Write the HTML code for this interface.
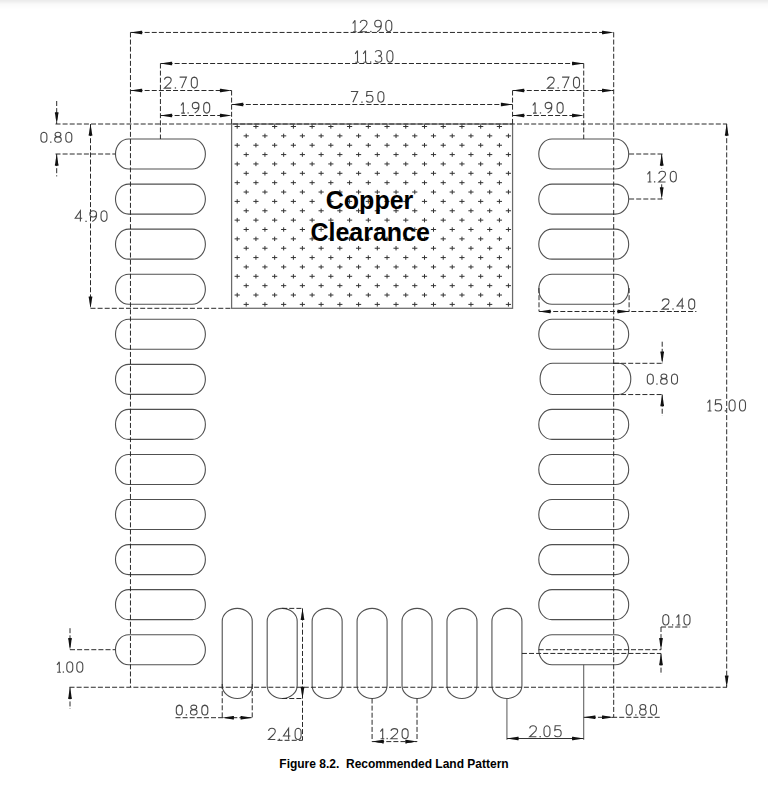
<!DOCTYPE html>
<html><head><meta charset="utf-8">
<style>
html,body{margin:0;padding:0;background:#fff;}
body{width:768px;height:807px;position:relative;overflow:hidden;}
svg{position:absolute;left:0;top:0;}
.big{position:absolute;font-family:"Liberation Sans",sans-serif;font-weight:bold;color:#000;white-space:nowrap;}
</style></head><body>
<svg width="768" height="807" viewBox="0 0 768 807">
<rect x="0" y="0" width="768" height="1" fill="#ececec"/><rect x="0" y="1" width="768" height="1" fill="#efefef"/><rect x="0" y="2" width="768" height="1" fill="#f3f3f3"/><rect x="0" y="3" width="768" height="1" fill="#f7f7f7"/><rect x="0" y="4" width="768" height="1" fill="#fafafa"/><rect x="0" y="5" width="768" height="1" fill="#fbfbfb"/><rect x="0" y="6" width="768" height="1" fill="#fcfcfc"/><rect x="0" y="7" width="768" height="1" fill="#fdfdfd"/><rect x="0" y="8" width="768" height="1" fill="#fefefe"/>
<path d="M234.6,126.5h5.2M237.2,124.3v4.4M253.33,126.5h5.2M255.93,124.3v4.4M272.06,126.5h5.2M274.66,124.3v4.4M290.79,126.5h5.2M293.39,124.3v4.4M309.52,126.5h5.2M312.12,124.3v4.4M328.25,126.5h5.2M330.85,124.3v4.4M346.98,126.5h5.2M349.58,124.3v4.4M365.71,126.5h5.2M368.31,124.3v4.4M384.44,126.5h5.2M387.04,124.3v4.4M403.17,126.5h5.2M405.77,124.3v4.4M421.9,126.5h5.2M424.5,124.3v4.4M440.63,126.5h5.2M443.23,124.3v4.4M459.36,126.5h5.2M461.96,124.3v4.4M478.09,126.5h5.2M480.69,124.3v4.4M496.82,126.5h5.2M499.42,124.3v4.4M243.6,135.86h5.2M246.2,133.66v4.4M262.33,135.86h5.2M264.93,133.66v4.4M281.06,135.86h5.2M283.66,133.66v4.4M299.79,135.86h5.2M302.39,133.66v4.4M318.52,135.86h5.2M321.12,133.66v4.4M337.25,135.86h5.2M339.85,133.66v4.4M355.98,135.86h5.2M358.58,133.66v4.4M374.71,135.86h5.2M377.31,133.66v4.4M393.44,135.86h5.2M396.04,133.66v4.4M412.17,135.86h5.2M414.77,133.66v4.4M430.9,135.86h5.2M433.5,133.66v4.4M449.63,135.86h5.2M452.23,133.66v4.4M468.36,135.86h5.2M470.96,133.66v4.4M487.09,135.86h5.2M489.69,133.66v4.4M505.82,135.86h5.2M508.42,133.66v4.4M234.6,145.23h5.2M237.2,143.03v4.4M253.33,145.23h5.2M255.93,143.03v4.4M272.06,145.23h5.2M274.66,143.03v4.4M290.79,145.23h5.2M293.39,143.03v4.4M309.52,145.23h5.2M312.12,143.03v4.4M328.25,145.23h5.2M330.85,143.03v4.4M346.98,145.23h5.2M349.58,143.03v4.4M365.71,145.23h5.2M368.31,143.03v4.4M384.44,145.23h5.2M387.04,143.03v4.4M403.17,145.23h5.2M405.77,143.03v4.4M421.9,145.23h5.2M424.5,143.03v4.4M440.63,145.23h5.2M443.23,143.03v4.4M459.36,145.23h5.2M461.96,143.03v4.4M478.09,145.23h5.2M480.69,143.03v4.4M496.82,145.23h5.2M499.42,143.03v4.4M243.6,154.59h5.2M246.2,152.39v4.4M262.33,154.59h5.2M264.93,152.39v4.4M281.06,154.59h5.2M283.66,152.39v4.4M299.79,154.59h5.2M302.39,152.39v4.4M318.52,154.59h5.2M321.12,152.39v4.4M337.25,154.59h5.2M339.85,152.39v4.4M355.98,154.59h5.2M358.58,152.39v4.4M374.71,154.59h5.2M377.31,152.39v4.4M393.44,154.59h5.2M396.04,152.39v4.4M412.17,154.59h5.2M414.77,152.39v4.4M430.9,154.59h5.2M433.5,152.39v4.4M449.63,154.59h5.2M452.23,152.39v4.4M468.36,154.59h5.2M470.96,152.39v4.4M487.09,154.59h5.2M489.69,152.39v4.4M505.82,154.59h5.2M508.42,152.39v4.4M234.6,163.95h5.2M237.2,161.75v4.4M253.33,163.95h5.2M255.93,161.75v4.4M272.06,163.95h5.2M274.66,161.75v4.4M290.79,163.95h5.2M293.39,161.75v4.4M309.52,163.95h5.2M312.12,161.75v4.4M328.25,163.95h5.2M330.85,161.75v4.4M346.98,163.95h5.2M349.58,161.75v4.4M365.71,163.95h5.2M368.31,161.75v4.4M384.44,163.95h5.2M387.04,161.75v4.4M403.17,163.95h5.2M405.77,161.75v4.4M421.9,163.95h5.2M424.5,161.75v4.4M440.63,163.95h5.2M443.23,161.75v4.4M459.36,163.95h5.2M461.96,161.75v4.4M478.09,163.95h5.2M480.69,161.75v4.4M496.82,163.95h5.2M499.42,161.75v4.4M243.6,173.31h5.2M246.2,171.12v4.4M262.33,173.31h5.2M264.93,171.12v4.4M281.06,173.31h5.2M283.66,171.12v4.4M299.79,173.31h5.2M302.39,171.12v4.4M318.52,173.31h5.2M321.12,171.12v4.4M337.25,173.31h5.2M339.85,171.12v4.4M355.98,173.31h5.2M358.58,171.12v4.4M374.71,173.31h5.2M377.31,171.12v4.4M393.44,173.31h5.2M396.04,171.12v4.4M412.17,173.31h5.2M414.77,171.12v4.4M430.9,173.31h5.2M433.5,171.12v4.4M449.63,173.31h5.2M452.23,171.12v4.4M468.36,173.31h5.2M470.96,171.12v4.4M487.09,173.31h5.2M489.69,171.12v4.4M505.82,173.31h5.2M508.42,171.12v4.4M234.6,182.68h5.2M237.2,180.48v4.4M253.33,182.68h5.2M255.93,180.48v4.4M272.06,182.68h5.2M274.66,180.48v4.4M290.79,182.68h5.2M293.39,180.48v4.4M309.52,182.68h5.2M312.12,180.48v4.4M328.25,182.68h5.2M330.85,180.48v4.4M346.98,182.68h5.2M349.58,180.48v4.4M365.71,182.68h5.2M368.31,180.48v4.4M384.44,182.68h5.2M387.04,180.48v4.4M403.17,182.68h5.2M405.77,180.48v4.4M421.9,182.68h5.2M424.5,180.48v4.4M440.63,182.68h5.2M443.23,180.48v4.4M459.36,182.68h5.2M461.96,180.48v4.4M478.09,182.68h5.2M480.69,180.48v4.4M496.82,182.68h5.2M499.42,180.48v4.4M243.6,192.04h5.2M246.2,189.84v4.4M262.33,192.04h5.2M264.93,189.84v4.4M281.06,192.04h5.2M283.66,189.84v4.4M299.79,192.04h5.2M302.39,189.84v4.4M318.52,192.04h5.2M321.12,189.84v4.4M337.25,192.04h5.2M339.85,189.84v4.4M355.98,192.04h5.2M358.58,189.84v4.4M374.71,192.04h5.2M377.31,189.84v4.4M393.44,192.04h5.2M396.04,189.84v4.4M412.17,192.04h5.2M414.77,189.84v4.4M430.9,192.04h5.2M433.5,189.84v4.4M449.63,192.04h5.2M452.23,189.84v4.4M468.36,192.04h5.2M470.96,189.84v4.4M487.09,192.04h5.2M489.69,189.84v4.4M505.82,192.04h5.2M508.42,189.84v4.4M234.6,201.4h5.2M237.2,199.2v4.4M253.33,201.4h5.2M255.93,199.2v4.4M272.06,201.4h5.2M274.66,199.2v4.4M290.79,201.4h5.2M293.39,199.2v4.4M309.52,201.4h5.2M312.12,199.2v4.4M328.25,201.4h5.2M330.85,199.2v4.4M346.98,201.4h5.2M349.58,199.2v4.4M365.71,201.4h5.2M368.31,199.2v4.4M384.44,201.4h5.2M387.04,199.2v4.4M403.17,201.4h5.2M405.77,199.2v4.4M421.9,201.4h5.2M424.5,199.2v4.4M440.63,201.4h5.2M443.23,199.2v4.4M459.36,201.4h5.2M461.96,199.2v4.4M478.09,201.4h5.2M480.69,199.2v4.4M496.82,201.4h5.2M499.42,199.2v4.4M243.6,210.77h5.2M246.2,208.57v4.4M262.33,210.77h5.2M264.93,208.57v4.4M281.06,210.77h5.2M283.66,208.57v4.4M299.79,210.77h5.2M302.39,208.57v4.4M318.52,210.77h5.2M321.12,208.57v4.4M337.25,210.77h5.2M339.85,208.57v4.4M355.98,210.77h5.2M358.58,208.57v4.4M374.71,210.77h5.2M377.31,208.57v4.4M393.44,210.77h5.2M396.04,208.57v4.4M412.17,210.77h5.2M414.77,208.57v4.4M430.9,210.77h5.2M433.5,208.57v4.4M449.63,210.77h5.2M452.23,208.57v4.4M468.36,210.77h5.2M470.96,208.57v4.4M487.09,210.77h5.2M489.69,208.57v4.4M505.82,210.77h5.2M508.42,208.57v4.4M234.6,220.13h5.2M237.2,217.93v4.4M253.33,220.13h5.2M255.93,217.93v4.4M272.06,220.13h5.2M274.66,217.93v4.4M290.79,220.13h5.2M293.39,217.93v4.4M309.52,220.13h5.2M312.12,217.93v4.4M328.25,220.13h5.2M330.85,217.93v4.4M346.98,220.13h5.2M349.58,217.93v4.4M365.71,220.13h5.2M368.31,217.93v4.4M384.44,220.13h5.2M387.04,217.93v4.4M403.17,220.13h5.2M405.77,217.93v4.4M421.9,220.13h5.2M424.5,217.93v4.4M440.63,220.13h5.2M443.23,217.93v4.4M459.36,220.13h5.2M461.96,217.93v4.4M478.09,220.13h5.2M480.69,217.93v4.4M496.82,220.13h5.2M499.42,217.93v4.4M243.6,229.49h5.2M246.2,227.29v4.4M262.33,229.49h5.2M264.93,227.29v4.4M281.06,229.49h5.2M283.66,227.29v4.4M299.79,229.49h5.2M302.39,227.29v4.4M318.52,229.49h5.2M321.12,227.29v4.4M337.25,229.49h5.2M339.85,227.29v4.4M355.98,229.49h5.2M358.58,227.29v4.4M374.71,229.49h5.2M377.31,227.29v4.4M393.44,229.49h5.2M396.04,227.29v4.4M412.17,229.49h5.2M414.77,227.29v4.4M430.9,229.49h5.2M433.5,227.29v4.4M449.63,229.49h5.2M452.23,227.29v4.4M468.36,229.49h5.2M470.96,227.29v4.4M487.09,229.49h5.2M489.69,227.29v4.4M505.82,229.49h5.2M508.42,227.29v4.4M234.6,238.86h5.2M237.2,236.66v4.4M253.33,238.86h5.2M255.93,236.66v4.4M272.06,238.86h5.2M274.66,236.66v4.4M290.79,238.86h5.2M293.39,236.66v4.4M309.52,238.86h5.2M312.12,236.66v4.4M328.25,238.86h5.2M330.85,236.66v4.4M346.98,238.86h5.2M349.58,236.66v4.4M365.71,238.86h5.2M368.31,236.66v4.4M384.44,238.86h5.2M387.04,236.66v4.4M403.17,238.86h5.2M405.77,236.66v4.4M421.9,238.86h5.2M424.5,236.66v4.4M440.63,238.86h5.2M443.23,236.66v4.4M459.36,238.86h5.2M461.96,236.66v4.4M478.09,238.86h5.2M480.69,236.66v4.4M496.82,238.86h5.2M499.42,236.66v4.4M243.6,248.22h5.2M246.2,246.02v4.4M262.33,248.22h5.2M264.93,246.02v4.4M281.06,248.22h5.2M283.66,246.02v4.4M299.79,248.22h5.2M302.39,246.02v4.4M318.52,248.22h5.2M321.12,246.02v4.4M337.25,248.22h5.2M339.85,246.02v4.4M355.98,248.22h5.2M358.58,246.02v4.4M374.71,248.22h5.2M377.31,246.02v4.4M393.44,248.22h5.2M396.04,246.02v4.4M412.17,248.22h5.2M414.77,246.02v4.4M430.9,248.22h5.2M433.5,246.02v4.4M449.63,248.22h5.2M452.23,246.02v4.4M468.36,248.22h5.2M470.96,246.02v4.4M487.09,248.22h5.2M489.69,246.02v4.4M505.82,248.22h5.2M508.42,246.02v4.4M234.6,257.58h5.2M237.2,255.38v4.4M253.33,257.58h5.2M255.93,255.38v4.4M272.06,257.58h5.2M274.66,255.38v4.4M290.79,257.58h5.2M293.39,255.38v4.4M309.52,257.58h5.2M312.12,255.38v4.4M328.25,257.58h5.2M330.85,255.38v4.4M346.98,257.58h5.2M349.58,255.38v4.4M365.71,257.58h5.2M368.31,255.38v4.4M384.44,257.58h5.2M387.04,255.38v4.4M403.17,257.58h5.2M405.77,255.38v4.4M421.9,257.58h5.2M424.5,255.38v4.4M440.63,257.58h5.2M443.23,255.38v4.4M459.36,257.58h5.2M461.96,255.38v4.4M478.09,257.58h5.2M480.69,255.38v4.4M496.82,257.58h5.2M499.42,255.38v4.4M243.6,266.94h5.2M246.2,264.75v4.4M262.33,266.94h5.2M264.93,264.75v4.4M281.06,266.94h5.2M283.66,264.75v4.4M299.79,266.94h5.2M302.39,264.75v4.4M318.52,266.94h5.2M321.12,264.75v4.4M337.25,266.94h5.2M339.85,264.75v4.4M355.98,266.94h5.2M358.58,264.75v4.4M374.71,266.94h5.2M377.31,264.75v4.4M393.44,266.94h5.2M396.04,264.75v4.4M412.17,266.94h5.2M414.77,264.75v4.4M430.9,266.94h5.2M433.5,264.75v4.4M449.63,266.94h5.2M452.23,264.75v4.4M468.36,266.94h5.2M470.96,264.75v4.4M487.09,266.94h5.2M489.69,264.75v4.4M505.82,266.94h5.2M508.42,264.75v4.4M234.6,276.31h5.2M237.2,274.11v4.4M253.33,276.31h5.2M255.93,274.11v4.4M272.06,276.31h5.2M274.66,274.11v4.4M290.79,276.31h5.2M293.39,274.11v4.4M309.52,276.31h5.2M312.12,274.11v4.4M328.25,276.31h5.2M330.85,274.11v4.4M346.98,276.31h5.2M349.58,274.11v4.4M365.71,276.31h5.2M368.31,274.11v4.4M384.44,276.31h5.2M387.04,274.11v4.4M403.17,276.31h5.2M405.77,274.11v4.4M421.9,276.31h5.2M424.5,274.11v4.4M440.63,276.31h5.2M443.23,274.11v4.4M459.36,276.31h5.2M461.96,274.11v4.4M478.09,276.31h5.2M480.69,274.11v4.4M496.82,276.31h5.2M499.42,274.11v4.4M243.6,285.67h5.2M246.2,283.47v4.4M262.33,285.67h5.2M264.93,283.47v4.4M281.06,285.67h5.2M283.66,283.47v4.4M299.79,285.67h5.2M302.39,283.47v4.4M318.52,285.67h5.2M321.12,283.47v4.4M337.25,285.67h5.2M339.85,283.47v4.4M355.98,285.67h5.2M358.58,283.47v4.4M374.71,285.67h5.2M377.31,283.47v4.4M393.44,285.67h5.2M396.04,283.47v4.4M412.17,285.67h5.2M414.77,283.47v4.4M430.9,285.67h5.2M433.5,283.47v4.4M449.63,285.67h5.2M452.23,283.47v4.4M468.36,285.67h5.2M470.96,283.47v4.4M487.09,285.67h5.2M489.69,283.47v4.4M505.82,285.67h5.2M508.42,283.47v4.4M234.6,295.03h5.2M237.2,292.83v4.4M253.33,295.03h5.2M255.93,292.83v4.4M272.06,295.03h5.2M274.66,292.83v4.4M290.79,295.03h5.2M293.39,292.83v4.4M309.52,295.03h5.2M312.12,292.83v4.4M328.25,295.03h5.2M330.85,292.83v4.4M346.98,295.03h5.2M349.58,292.83v4.4M365.71,295.03h5.2M368.31,292.83v4.4M384.44,295.03h5.2M387.04,292.83v4.4M403.17,295.03h5.2M405.77,292.83v4.4M421.9,295.03h5.2M424.5,292.83v4.4M440.63,295.03h5.2M443.23,292.83v4.4M459.36,295.03h5.2M461.96,292.83v4.4M478.09,295.03h5.2M480.69,292.83v4.4M496.82,295.03h5.2M499.42,292.83v4.4M243.6,304.4h5.2M246.2,302.2v4.4M262.33,304.4h5.2M264.93,302.2v4.4M281.06,304.4h5.2M283.66,302.2v4.4M299.79,304.4h5.2M302.39,302.2v4.4M318.52,304.4h5.2M321.12,302.2v4.4M337.25,304.4h5.2M339.85,302.2v4.4M355.98,304.4h5.2M358.58,302.2v4.4M374.71,304.4h5.2M377.31,302.2v4.4M393.44,304.4h5.2M396.04,302.2v4.4M412.17,304.4h5.2M414.77,302.2v4.4M430.9,304.4h5.2M433.5,302.2v4.4M449.63,304.4h5.2M452.23,302.2v4.4M468.36,304.4h5.2M470.96,302.2v4.4M487.09,304.4h5.2M489.69,302.2v4.4M505.82,304.4h5.2M508.42,302.2v4.4" stroke="#333" stroke-width="1" fill="none"/>
<rect x="231.6" y="124" width="280.96" height="184.3" fill="none" stroke="#6a6a6a" stroke-width="1.25"/>
<rect x="115.48" y="139.04" width="89.9" height="30" rx="13.2" ry="15" fill="none" stroke="#505050" stroke-width="1.1"/>
<rect x="538.78" y="139.04" width="89.9" height="30" rx="13.2" ry="15" fill="none" stroke="#505050" stroke-width="1.1"/>
<rect x="115.48" y="184.1" width="89.9" height="30" rx="13.2" ry="15" fill="none" stroke="#505050" stroke-width="1.1"/>
<rect x="538.78" y="184.1" width="89.9" height="30" rx="13.2" ry="15" fill="none" stroke="#505050" stroke-width="1.1"/>
<rect x="115.48" y="229.16" width="89.9" height="30" rx="13.2" ry="15" fill="none" stroke="#505050" stroke-width="1.1"/>
<rect x="538.78" y="229.16" width="89.9" height="30" rx="13.2" ry="15" fill="none" stroke="#505050" stroke-width="1.1"/>
<rect x="115.48" y="274.22" width="89.9" height="30" rx="13.2" ry="15" fill="none" stroke="#505050" stroke-width="1.1"/>
<rect x="538.78" y="274.22" width="89.9" height="30" rx="13.2" ry="15" fill="none" stroke="#505050" stroke-width="1.1"/>
<rect x="115.48" y="319.28" width="89.9" height="30" rx="13.2" ry="15" fill="none" stroke="#505050" stroke-width="1.1"/>
<rect x="538.78" y="319.28" width="89.9" height="30" rx="13.2" ry="15" fill="none" stroke="#505050" stroke-width="1.1"/>
<rect x="115.48" y="364.34" width="89.9" height="30" rx="13.2" ry="15" fill="none" stroke="#505050" stroke-width="1.1"/>
<rect x="540.1" y="363.3" width="90.7" height="31.25" rx="12.5" ry="15.6" fill="none" stroke="#505050" stroke-width="1.1"/>
<rect x="115.48" y="409.4" width="89.9" height="30" rx="13.2" ry="15" fill="none" stroke="#505050" stroke-width="1.1"/>
<rect x="538.78" y="409.4" width="89.9" height="30" rx="13.2" ry="15" fill="none" stroke="#505050" stroke-width="1.1"/>
<rect x="115.48" y="454.46" width="89.9" height="30" rx="13.2" ry="15" fill="none" stroke="#505050" stroke-width="1.1"/>
<rect x="538.78" y="454.46" width="89.9" height="30" rx="13.2" ry="15" fill="none" stroke="#505050" stroke-width="1.1"/>
<rect x="115.48" y="499.52" width="89.9" height="30" rx="13.2" ry="15" fill="none" stroke="#505050" stroke-width="1.1"/>
<rect x="538.78" y="499.52" width="89.9" height="30" rx="13.2" ry="15" fill="none" stroke="#505050" stroke-width="1.1"/>
<rect x="115.48" y="544.58" width="89.9" height="30" rx="13.2" ry="15" fill="none" stroke="#505050" stroke-width="1.1"/>
<rect x="538.78" y="544.58" width="89.9" height="30" rx="13.2" ry="15" fill="none" stroke="#505050" stroke-width="1.1"/>
<rect x="115.48" y="589.64" width="89.9" height="30" rx="13.2" ry="15" fill="none" stroke="#505050" stroke-width="1.1"/>
<rect x="538.78" y="589.64" width="89.9" height="30" rx="13.2" ry="15" fill="none" stroke="#505050" stroke-width="1.1"/>
<rect x="115.48" y="634.7" width="89.9" height="30" rx="13.2" ry="15" fill="none" stroke="#505050" stroke-width="1.1"/>
<rect x="538.78" y="634.7" width="89.9" height="30" rx="13.2" ry="15" fill="none" stroke="#505050" stroke-width="1.1"/>
<rect x="222.23" y="608.39" width="30" height="90.12" rx="15" ry="13" fill="none" stroke="#505050" stroke-width="1.1"/>
<rect x="267.18" y="608.39" width="30" height="90.12" rx="15" ry="13" fill="none" stroke="#505050" stroke-width="1.1"/>
<rect x="312.13" y="608.39" width="30" height="90.12" rx="15" ry="13" fill="none" stroke="#505050" stroke-width="1.1"/>
<rect x="357.08" y="608.39" width="30" height="90.12" rx="15" ry="13" fill="none" stroke="#505050" stroke-width="1.1"/>
<rect x="402.03" y="608.39" width="30" height="90.12" rx="15" ry="13" fill="none" stroke="#505050" stroke-width="1.1"/>
<rect x="446.98" y="608.39" width="30" height="90.12" rx="15" ry="13" fill="none" stroke="#505050" stroke-width="1.1"/>
<rect x="491.93" y="608.39" width="30" height="90.12" rx="15" ry="13" fill="none" stroke="#505050" stroke-width="1.1"/>
<line x1="130.46" y1="32.45" x2="130.46" y2="687.25" stroke="#2a2a2a" stroke-width="1" stroke-dasharray="5 2.1"/>
<line x1="613.7" y1="32.45" x2="613.7" y2="717.3" stroke="#2a2a2a" stroke-width="1" stroke-dasharray="5 2.1"/>
<line x1="55.5" y1="124" x2="727" y2="124" stroke="#2a2a2a" stroke-width="1" stroke-dasharray="5 2.1"/>
<line x1="69.5" y1="687.25" x2="727" y2="687.25" stroke="#2a2a2a" stroke-width="1" stroke-dasharray="5 2.1"/>
<line x1="130.46" y1="32.45" x2="613.7" y2="32.45" stroke="#2a2a2a" stroke-width="1" stroke-dasharray="5 2.1"/>
<polygon points="130.46,32.45 133.46,31.95 136.46,31.4 139.96,30.95 140.96,30.65 142.16,30.65 142.16,34.25 140.96,34.25 139.96,33.95 136.46,33.5 133.46,32.95" fill="#111"/>
<polygon points="613.7,32.45 610.7,31.95 607.7,31.4 604.2,30.95 603.2,30.65 602,30.65 602,34.25 603.2,34.25 604.2,33.95 607.7,33.5 610.7,32.95" fill="#111"/>
<path transform="translate(352.7,20.2) scale(1,1.0455)" d="M2.3,0 L0,3.2 M2.3,0 V11 M0.2,11 H3.9" fill="none" stroke="#484848" stroke-width="1.1" vector-effect="non-scaling-stroke"/>
<path transform="translate(360.2,20.2) scale(1,1.0455)" d="M0,2.6 Q0.6,0 3.4,0 Q6.8,0 6.8,3 Q6.8,5 4.6,6.6 L0,11 H6.8" fill="none" stroke="#484848" stroke-width="1.1" vector-effect="non-scaling-stroke"/>
<rect x="370.2" y="30.9" width="1.3" height="1.3" fill="#484848"/>
<path transform="translate(374.7,20.2) scale(1,1.0455)" d="M6.6,3.3 Q6.6,6.4 3.3,6.4 Q0,6.4 0,3.2 Q0,0 3.3,0 Q6.6,0 6.6,3.3 V5 Q6.4,8.8 2.4,11" fill="none" stroke="#484848" stroke-width="1.1" vector-effect="non-scaling-stroke"/>
<path transform="translate(385.8,20.2) scale(1,1.0455)" d="M3,0 Q6,0.4 6,4 V7 Q6,10.6 3,11 Q0,10.6 0,7 V4 Q0,0.4 3,0 Z" fill="none" stroke="#484848" stroke-width="1.1" vector-effect="non-scaling-stroke"/>
<line x1="160.43" y1="63.5" x2="583.73" y2="63.5" stroke="#2a2a2a" stroke-width="1" stroke-dasharray="5 2.1"/>
<line x1="160.43" y1="63.5" x2="160.43" y2="139.04" stroke="#2a2a2a" stroke-width="1" stroke-dasharray="5 2.1"/>
<line x1="583.73" y1="63.5" x2="583.73" y2="139.04" stroke="#2a2a2a" stroke-width="1" stroke-dasharray="5 2.1"/>
<polygon points="160.43,63.5 163.43,63 166.43,62.45 169.93,62 170.93,61.7 172.13,61.7 172.13,65.3 170.93,65.3 169.93,65 166.43,64.55 163.43,64" fill="#111"/>
<polygon points="583.73,63.5 580.73,63 577.73,62.45 574.23,62 573.23,61.7 572.03,61.7 572.03,65.3 573.23,65.3 574.23,65 577.73,64.55 580.73,64" fill="#111"/>
<path transform="translate(355.2,50.5) scale(1,1.0636)" d="M2.3,0 L0,3.2 M2.3,0 V11 M0.2,11 H3.9" fill="none" stroke="#484848" stroke-width="1.1" vector-effect="non-scaling-stroke"/>
<path transform="translate(363.25,50.5) scale(1,1.0636)" d="M2.3,0 L0,3.2 M2.3,0 V11 M0.2,11 H3.9" fill="none" stroke="#484848" stroke-width="1.1" vector-effect="non-scaling-stroke"/>
<rect x="370" y="61.4" width="1.3" height="1.3" fill="#484848"/>
<path transform="translate(375.05,50.5) scale(1,1.0636)" d="M0.2,1.6 Q1,0 3.3,0 Q6.4,0 6.4,2.7 Q6.4,5.2 3,5.2 Q6.8,5.2 6.8,8 Q6.8,11 3.4,11 Q0.8,11 0,9.4" fill="none" stroke="#484848" stroke-width="1.1" vector-effect="non-scaling-stroke"/>
<path transform="translate(386.9,50.5) scale(1,1.0636)" d="M3,0 Q6,0.4 6,4 V7 Q6,10.6 3,11 Q0,10.6 0,7 V4 Q0,0.4 3,0 Z" fill="none" stroke="#484848" stroke-width="1.1" vector-effect="non-scaling-stroke"/>
<line x1="130.46" y1="90.5" x2="231.6" y2="90.5" stroke="#2a2a2a" stroke-width="1" stroke-dasharray="5 2.1"/>
<polygon points="130.46,90.5 133.46,90 136.46,89.45 139.96,89 140.96,88.7 142.16,88.7 142.16,92.3 140.96,92.3 139.96,92 136.46,91.55 133.46,91" fill="#111"/>
<polygon points="231.6,90.5 228.6,90 225.6,89.45 222.1,89 221.1,88.7 219.9,88.7 219.9,92.3 221.1,92.3 222.1,92 225.6,91.55 228.6,91" fill="#111"/>
<path transform="translate(164.4,77.1) scale(1,1.0000)" d="M0,2.6 Q0.6,0 3.4,0 Q6.8,0 6.8,3 Q6.8,5 4.6,6.6 L0,11 H6.8" fill="none" stroke="#484848" stroke-width="1.1" vector-effect="non-scaling-stroke"/>
<rect x="174.77" y="87.3" width="1.3" height="1.3" fill="#484848"/>
<path transform="translate(179.63,77.1) scale(1,1.0000)" d="M0,0 H6.8 L2,11" fill="none" stroke="#484848" stroke-width="1.1" vector-effect="non-scaling-stroke"/>
<path transform="translate(191.3,77.1) scale(1,1.0000)" d="M3,0 Q6,0.4 6,4 V7 Q6,10.6 3,11 Q0,10.6 0,7 V4 Q0,0.4 3,0 Z" fill="none" stroke="#484848" stroke-width="1.1" vector-effect="non-scaling-stroke"/>
<line x1="512.56" y1="90.5" x2="613.7" y2="90.5" stroke="#2a2a2a" stroke-width="1" stroke-dasharray="5 2.1"/>
<polygon points="512.56,90.5 515.56,90 518.56,89.45 522.06,89 523.06,88.7 524.26,88.7 524.26,92.3 523.06,92.3 522.06,92 518.56,91.55 515.56,91" fill="#111"/>
<polygon points="613.7,90.5 610.7,90 607.7,89.45 604.2,89 603.2,88.7 602,88.7 602,92.3 603.2,92.3 604.2,92 607.7,91.55 610.7,91" fill="#111"/>
<path transform="translate(547.4,77.1) scale(1,1.0000)" d="M0,2.6 Q0.6,0 3.4,0 Q6.8,0 6.8,3 Q6.8,5 4.6,6.6 L0,11 H6.8" fill="none" stroke="#484848" stroke-width="1.1" vector-effect="non-scaling-stroke"/>
<rect x="557.5" y="87.3" width="1.3" height="1.3" fill="#484848"/>
<path transform="translate(562.1,77.1) scale(1,1.0000)" d="M0,0 H6.8 L2,11" fill="none" stroke="#484848" stroke-width="1.1" vector-effect="non-scaling-stroke"/>
<path transform="translate(573.5,77.1) scale(1,1.0000)" d="M3,0 Q6,0.4 6,4 V7 Q6,10.6 3,11 Q0,10.6 0,7 V4 Q0,0.4 3,0 Z" fill="none" stroke="#484848" stroke-width="1.1" vector-effect="non-scaling-stroke"/>
<line x1="231.6" y1="90.5" x2="231.6" y2="124" stroke="#2a2a2a" stroke-width="1" stroke-dasharray="5 2.1"/>
<line x1="512.56" y1="90.5" x2="512.56" y2="124" stroke="#2a2a2a" stroke-width="1" stroke-dasharray="5 2.1"/>
<line x1="160.43" y1="115.5" x2="231.6" y2="115.5" stroke="#2a2a2a" stroke-width="1" stroke-dasharray="5 2.1"/>
<polygon points="160.43,115.5 163.43,115 166.43,114.45 169.93,114 170.93,113.7 172.13,113.7 172.13,117.3 170.93,117.3 169.93,117 166.43,116.55 163.43,116" fill="#111"/>
<polygon points="231.6,115.5 228.6,115 225.6,114.45 222.1,114 221.1,113.7 219.9,113.7 219.9,117.3 221.1,117.3 222.1,117 225.6,116.55 228.6,116" fill="#111"/>
<path transform="translate(181,102.4) scale(1,0.9727)" d="M2.3,0 L0,3.2 M2.3,0 V11 M0.2,11 H3.9" fill="none" stroke="#484848" stroke-width="1.1" vector-effect="non-scaling-stroke"/>
<rect x="187.5" y="112.3" width="1.3" height="1.3" fill="#484848"/>
<path transform="translate(192.3,102.4) scale(1,0.9727)" d="M6.6,3.3 Q6.6,6.4 3.3,6.4 Q0,6.4 0,3.2 Q0,0 3.3,0 Q6.6,0 6.6,3.3 V5 Q6.4,8.8 2.4,11" fill="none" stroke="#484848" stroke-width="1.1" vector-effect="non-scaling-stroke"/>
<path transform="translate(203.7,102.4) scale(1,0.9727)" d="M3,0 Q6,0.4 6,4 V7 Q6,10.6 3,11 Q0,10.6 0,7 V4 Q0,0.4 3,0 Z" fill="none" stroke="#484848" stroke-width="1.1" vector-effect="non-scaling-stroke"/>
<line x1="512.56" y1="115.5" x2="583.73" y2="115.5" stroke="#2a2a2a" stroke-width="1" stroke-dasharray="5 2.1"/>
<polygon points="512.56,115.5 515.56,115 518.56,114.45 522.06,114 523.06,113.7 524.26,113.7 524.26,117.3 523.06,117.3 522.06,117 518.56,116.55 515.56,116" fill="#111"/>
<polygon points="583.73,115.5 580.73,115 577.73,114.45 574.23,114 573.23,113.7 572.03,113.7 572.03,117.3 573.23,117.3 574.23,117 577.73,116.55 580.73,116" fill="#111"/>
<path transform="translate(532.8,102.4) scale(1,0.9727)" d="M2.3,0 L0,3.2 M2.3,0 V11 M0.2,11 H3.9" fill="none" stroke="#484848" stroke-width="1.1" vector-effect="non-scaling-stroke"/>
<rect x="539.83" y="112.3" width="1.3" height="1.3" fill="#484848"/>
<path transform="translate(545.17,102.4) scale(1,0.9727)" d="M6.6,3.3 Q6.6,6.4 3.3,6.4 Q0,6.4 0,3.2 Q0,0 3.3,0 Q6.6,0 6.6,3.3 V5 Q6.4,8.8 2.4,11" fill="none" stroke="#484848" stroke-width="1.1" vector-effect="non-scaling-stroke"/>
<path transform="translate(557.1,102.4) scale(1,0.9727)" d="M3,0 Q6,0.4 6,4 V7 Q6,10.6 3,11 Q0,10.6 0,7 V4 Q0,0.4 3,0 Z" fill="none" stroke="#484848" stroke-width="1.1" vector-effect="non-scaling-stroke"/>
<line x1="231.6" y1="104.5" x2="512.56" y2="104.5" stroke="#2a2a2a" stroke-width="1" stroke-dasharray="5 2.1"/>
<polygon points="231.6,104.5 234.6,104 237.6,103.45 241.1,103 242.1,102.7 243.3,102.7 243.3,106.3 242.1,106.3 241.1,106 237.6,105.55 234.6,105" fill="#111"/>
<polygon points="512.56,104.5 509.56,104 506.56,103.45 503.06,103 502.06,102.7 500.86,102.7 500.86,106.3 502.06,106.3 503.06,106 506.56,105.55 509.56,105" fill="#111"/>
<path transform="translate(350.9,91.5) scale(1,0.9818)" d="M0,0 H6.8 L2,11" fill="none" stroke="#484848" stroke-width="1.1" vector-effect="non-scaling-stroke"/>
<rect x="361.3" y="101.5" width="1.3" height="1.3" fill="#484848"/>
<path transform="translate(366.2,91.5) scale(1,0.9818)" d="M6.4,0 H0.8 L0.4,4.6 Q1.6,3.8 3.4,3.8 Q6.8,3.8 6.8,7.4 Q6.8,11 3.4,11 Q1,11 0,9.6" fill="none" stroke="#484848" stroke-width="1.1" vector-effect="non-scaling-stroke"/>
<path transform="translate(377.9,91.5) scale(1,0.9818)" d="M3,0 Q6,0.4 6,4 V7 Q6,10.6 3,11 Q0,10.6 0,7 V4 Q0,0.4 3,0 Z" fill="none" stroke="#484848" stroke-width="1.1" vector-effect="non-scaling-stroke"/>
<line x1="56.7" y1="101" x2="56.7" y2="124" stroke="#2a2a2a" stroke-width="1" stroke-dasharray="5 2.1"/>
<polygon points="56.7,124 56.2,121 55.65,118 55.2,114.5 54.9,113.5 54.9,112.3 58.5,112.3 58.5,113.5 58.2,114.5 57.75,118 57.2,121" fill="#111"/>
<line x1="55.5" y1="154" x2="115.3" y2="154" stroke="#2a2a2a" stroke-width="1" stroke-dasharray="5 2.1"/>
<line x1="56.7" y1="154" x2="56.7" y2="176.4" stroke="#2a2a2a" stroke-width="1" stroke-dasharray="5 2.1"/>
<polygon points="56.7,154 56.2,157 55.65,160 55.2,163.5 54.9,164.5 54.9,165.7 58.5,165.7 58.5,164.5 58.2,163.5 57.75,160 57.2,157" fill="#111"/>
<path transform="translate(40.9,132.3) scale(1,0.9091)" d="M3,0 Q6,0.4 6,4 V7 Q6,10.6 3,11 Q0,10.6 0,7 V4 Q0,0.4 3,0 Z" fill="none" stroke="#484848" stroke-width="1.1" vector-effect="non-scaling-stroke"/>
<rect x="50.13" y="141.5" width="1.3" height="1.3" fill="#484848"/>
<path transform="translate(54.67,132.3) scale(1,0.9091)" d="M3.3,5 Q6.2,5 6.2,2.5 Q6.2,0 3.3,0 Q0.4,0 0.4,2.5 Q0.4,5 3.3,5 Q6.6,5 6.6,8 Q6.6,11 3.3,11 Q0,11 0,8 Q0,5 3.3,5 Z" fill="none" stroke="#484848" stroke-width="1.1" vector-effect="non-scaling-stroke"/>
<path transform="translate(65.8,132.3) scale(1,0.9091)" d="M3,0 Q6,0.4 6,4 V7 Q6,10.6 3,11 Q0,10.6 0,7 V4 Q0,0.4 3,0 Z" fill="none" stroke="#484848" stroke-width="1.1" vector-effect="non-scaling-stroke"/>
<line x1="90.5" y1="124" x2="90.5" y2="308.3" stroke="#2a2a2a" stroke-width="1" stroke-dasharray="5 2.1"/>
<polygon points="90.5,124 90,127 89.45,130 89,133.5 88.7,134.5 88.7,135.7 92.3,135.7 92.3,134.5 92,133.5 91.55,130 91,127" fill="#111"/>
<polygon points="90.5,308.3 90,305.3 89.45,302.3 89,298.8 88.7,297.8 88.7,296.6 92.3,296.6 92.3,297.8 92,298.8 91.55,302.3 91,305.3" fill="#111"/>
<line x1="90.5" y1="308.3" x2="231.6" y2="308.3" stroke="#2a2a2a" stroke-width="1" stroke-dasharray="5 2.1"/>
<path transform="translate(75.2,210.8) scale(1,0.9727)" d="M5.2,11 V0 L0,7.6 H7" fill="none" stroke="#484848" stroke-width="1.1" vector-effect="non-scaling-stroke"/>
<rect x="85.4" y="220.7" width="1.3" height="1.3" fill="#484848"/>
<path transform="translate(89.9,210.8) scale(1,0.9727)" d="M6.6,3.3 Q6.6,6.4 3.3,6.4 Q0,6.4 0,3.2 Q0,0 3.3,0 Q6.6,0 6.6,3.3 V5 Q6.4,8.8 2.4,11" fill="none" stroke="#484848" stroke-width="1.1" vector-effect="non-scaling-stroke"/>
<path transform="translate(101,210.8) scale(1,0.9727)" d="M3,0 Q6,0.4 6,4 V7 Q6,10.6 3,11 Q0,10.6 0,7 V4 Q0,0.4 3,0 Z" fill="none" stroke="#484848" stroke-width="1.1" vector-effect="non-scaling-stroke"/>
<line x1="629.1" y1="154" x2="662.5" y2="154" stroke="#2a2a2a" stroke-width="1" stroke-dasharray="5 2.1"/>
<line x1="629.1" y1="199" x2="662.5" y2="199" stroke="#2a2a2a" stroke-width="1" stroke-dasharray="5 2.1"/>
<line x1="661.7" y1="154" x2="661.7" y2="168.6" stroke="#2a2a2a" stroke-width="1" stroke-dasharray="5 2.1"/>
<line x1="661.7" y1="184.3" x2="661.7" y2="199" stroke="#2a2a2a" stroke-width="1" stroke-dasharray="5 2.1"/>
<polygon points="661.7,154 661.2,157 660.65,160 660.2,163.5 659.9,164.5 659.9,165.7 663.5,165.7 663.5,164.5 663.2,163.5 662.75,160 662.2,157" fill="#111"/>
<polygon points="661.7,199 661.2,196 660.65,193 660.2,189.5 659.9,188.5 659.9,187.3 663.5,187.3 663.5,188.5 663.2,189.5 662.75,193 662.2,196" fill="#111"/>
<path transform="translate(647.5,171.2) scale(1,0.9818)" d="M2.3,0 L0,3.2 M2.3,0 V11 M0.2,11 H3.9" fill="none" stroke="#484848" stroke-width="1.1" vector-effect="non-scaling-stroke"/>
<rect x="653.97" y="181.2" width="1.3" height="1.3" fill="#484848"/>
<path transform="translate(658.73,171.2) scale(1,0.9818)" d="M0,2.6 Q0.6,0 3.4,0 Q6.8,0 6.8,3 Q6.8,5 4.6,6.6 L0,11 H6.8" fill="none" stroke="#484848" stroke-width="1.1" vector-effect="non-scaling-stroke"/>
<path transform="translate(670.3,171.2) scale(1,0.9818)" d="M3,0 Q6,0.4 6,4 V7 Q6,10.6 3,11 Q0,10.6 0,7 V4 Q0,0.4 3,0 Z" fill="none" stroke="#484848" stroke-width="1.1" vector-effect="non-scaling-stroke"/>
<line x1="539" y1="288.1" x2="539" y2="311.5" stroke="#2a2a2a" stroke-width="1" stroke-dasharray="5 2.1"/>
<line x1="629.1" y1="288.1" x2="629.1" y2="311.5" stroke="#2a2a2a" stroke-width="1" stroke-dasharray="5 2.1"/>
<line x1="539" y1="311.5" x2="696.4" y2="311.5" stroke="#2a2a2a" stroke-width="1" stroke-dasharray="5 2.1"/>
<polygon points="539,311.5 542,311 545,310.45 548.5,310 549.5,309.7 550.7,309.7 550.7,313.3 549.5,313.3 548.5,313 545,312.55 542,312" fill="#111"/>
<polygon points="629.1,311.5 626.1,311 623.1,310.45 619.6,310 618.6,309.7 617.4,309.7 617.4,313.3 618.6,313.3 619.6,313 623.1,312.55 626.1,312" fill="#111"/>
<path transform="translate(662.2,298.9) scale(1,0.9273)" d="M0,2.6 Q0.6,0 3.4,0 Q6.8,0 6.8,3 Q6.8,5 4.6,6.6 L0,11 H6.8" fill="none" stroke="#484848" stroke-width="1.1" vector-effect="non-scaling-stroke"/>
<rect x="672.37" y="308.3" width="1.3" height="1.3" fill="#484848"/>
<path transform="translate(677.03,298.9) scale(1,0.9273)" d="M5.2,11 V0 L0,7.6 H7" fill="none" stroke="#484848" stroke-width="1.1" vector-effect="non-scaling-stroke"/>
<path transform="translate(688.7,298.9) scale(1,0.9273)" d="M3,0 Q6,0.4 6,4 V7 Q6,10.6 3,11 Q0,10.6 0,7 V4 Q0,0.4 3,0 Z" fill="none" stroke="#484848" stroke-width="1.1" vector-effect="non-scaling-stroke"/>
<line x1="614" y1="363.3" x2="663" y2="363.3" stroke="#2a2a2a" stroke-width="1" stroke-dasharray="5 2.1"/>
<line x1="614" y1="394.55" x2="663" y2="394.55" stroke="#2a2a2a" stroke-width="1" stroke-dasharray="5 2.1"/>
<line x1="662.2" y1="341.7" x2="662.2" y2="363.3" stroke="#2a2a2a" stroke-width="1" stroke-dasharray="5 2.1"/>
<polygon points="662.2,363.3 661.7,360.3 661.15,357.3 660.7,353.8 660.4,352.8 660.4,351.6 664,351.6 664,352.8 663.7,353.8 663.25,357.3 662.7,360.3" fill="#111"/>
<line x1="662.2" y1="394.55" x2="662.2" y2="416" stroke="#2a2a2a" stroke-width="1" stroke-dasharray="5 2.1"/>
<polygon points="662.2,394.55 661.7,397.55 661.15,400.55 660.7,404.05 660.4,405.05 660.4,406.25 664,406.25 664,405.05 663.7,404.05 663.25,400.55 662.7,397.55" fill="#111"/>
<path transform="translate(647.3,374) scale(1,0.9273)" d="M3,0 Q6,0.4 6,4 V7 Q6,10.6 3,11 Q0,10.6 0,7 V4 Q0,0.4 3,0 Z" fill="none" stroke="#484848" stroke-width="1.1" vector-effect="non-scaling-stroke"/>
<rect x="656.3" y="383.4" width="1.3" height="1.3" fill="#484848"/>
<path transform="translate(660.6,374) scale(1,0.9273)" d="M3.3,5 Q6.2,5 6.2,2.5 Q6.2,0 3.3,0 Q0.4,0 0.4,2.5 Q0.4,5 3.3,5 Q6.6,5 6.6,8 Q6.6,11 3.3,11 Q0,11 0,8 Q0,5 3.3,5 Z" fill="none" stroke="#484848" stroke-width="1.1" vector-effect="non-scaling-stroke"/>
<path transform="translate(671.5,374) scale(1,0.9273)" d="M3,0 Q6,0.4 6,4 V7 Q6,10.6 3,11 Q0,10.6 0,7 V4 Q0,0.4 3,0 Z" fill="none" stroke="#484848" stroke-width="1.1" vector-effect="non-scaling-stroke"/>
<line x1="726.7" y1="124" x2="726.7" y2="687.25" stroke="#2a2a2a" stroke-width="1" stroke-dasharray="5 2.1"/>
<polygon points="726.7,124 726.2,127 725.65,130 725.2,133.5 724.9,134.5 724.9,135.7 728.5,135.7 728.5,134.5 728.2,133.5 727.75,130 727.2,127" fill="#111"/>
<polygon points="726.7,687.25 726.2,684.25 725.65,681.25 725.2,677.75 724.9,676.75 724.9,675.55 728.5,675.55 728.5,676.75 728.2,677.75 727.75,681.25 727.2,684.25" fill="#111"/>
<path transform="translate(707.5,399.7) scale(1,1.0273)" d="M2.3,0 L0,3.2 M2.3,0 V11 M0.2,11 H3.9" fill="none" stroke="#484848" stroke-width="1.1" vector-effect="non-scaling-stroke"/>
<path transform="translate(714.88,399.7) scale(1,1.0273)" d="M6.4,0 H0.8 L0.4,4.6 Q1.6,3.8 3.4,3.8 Q6.8,3.8 6.8,7.4 Q6.8,11 3.4,11 Q1,11 0,9.6" fill="none" stroke="#484848" stroke-width="1.1" vector-effect="non-scaling-stroke"/>
<rect x="724.75" y="410.2" width="1.3" height="1.3" fill="#484848"/>
<path transform="translate(729.12,399.7) scale(1,1.0273)" d="M3,0 Q6,0.4 6,4 V7 Q6,10.6 3,11 Q0,10.6 0,7 V4 Q0,0.4 3,0 Z" fill="none" stroke="#484848" stroke-width="1.1" vector-effect="non-scaling-stroke"/>
<path transform="translate(739.5,399.7) scale(1,1.0273)" d="M3,0 Q6,0.4 6,4 V7 Q6,10.6 3,11 Q0,10.6 0,7 V4 Q0,0.4 3,0 Z" fill="none" stroke="#484848" stroke-width="1.1" vector-effect="non-scaling-stroke"/>
<line x1="70" y1="628.2" x2="70" y2="649.7" stroke="#2a2a2a" stroke-width="1" stroke-dasharray="5 2.1"/>
<polygon points="70,649.7 69.5,646.7 68.95,643.7 68.5,640.2 68.2,639.2 68.2,638 71.8,638 71.8,639.2 71.5,640.2 71.05,643.7 70.5,646.7" fill="#111"/>
<line x1="70" y1="649.7" x2="115.3" y2="649.7" stroke="#2a2a2a" stroke-width="1" stroke-dasharray="5 2.1"/>
<line x1="70" y1="687.25" x2="70" y2="709" stroke="#2a2a2a" stroke-width="1" stroke-dasharray="5 2.1"/>
<polygon points="70,687.25 69.5,690.25 68.95,693.25 68.5,696.75 68.2,697.75 68.2,698.95 71.8,698.95 71.8,697.75 71.5,696.75 71.05,693.25 70.5,690.25" fill="#111"/>
<path transform="translate(57,661.8) scale(1,0.9455)" d="M2.3,0 L0,3.2 M2.3,0 V11 M0.2,11 H3.9" fill="none" stroke="#484848" stroke-width="1.1" vector-effect="non-scaling-stroke"/>
<rect x="62.73" y="671.4" width="1.3" height="1.3" fill="#484848"/>
<path transform="translate(66.77,661.8) scale(1,0.9455)" d="M3,0 Q6,0.4 6,4 V7 Q6,10.6 3,11 Q0,10.6 0,7 V4 Q0,0.4 3,0 Z" fill="none" stroke="#484848" stroke-width="1.1" vector-effect="non-scaling-stroke"/>
<path transform="translate(76.8,661.8) scale(1,0.9455)" d="M3,0 Q6,0.4 6,4 V7 Q6,10.6 3,11 Q0,10.6 0,7 V4 Q0,0.4 3,0 Z" fill="none" stroke="#484848" stroke-width="1.1" vector-effect="non-scaling-stroke"/>
<line x1="222.23" y1="684" x2="222.23" y2="717.7" stroke="#2a2a2a" stroke-width="1" stroke-dasharray="5 2.1"/>
<line x1="252.23" y1="684" x2="252.23" y2="717.7" stroke="#2a2a2a" stroke-width="1" stroke-dasharray="5 2.1"/>
<line x1="175.5" y1="717.7" x2="252.23" y2="717.7" stroke="#2a2a2a" stroke-width="1" stroke-dasharray="5 2.1"/>
<polygon points="222.23,717.7 225.23,717.2 228.23,716.65 231.73,716.2 232.73,715.9 233.93,715.9 233.93,719.5 232.73,719.5 231.73,719.2 228.23,718.75 225.23,718.2" fill="#111"/>
<polygon points="252.23,717.7 249.23,717.2 246.23,716.65 242.73,716.2 241.73,715.9 240.53,715.9 240.53,719.5 241.73,719.5 242.73,719.2 246.23,718.75 249.23,718.2" fill="#111"/>
<path transform="translate(176.3,705.1) scale(1,0.9000)" d="M3,0 Q6,0.4 6,4 V7 Q6,10.6 3,11 Q0,10.6 0,7 V4 Q0,0.4 3,0 Z" fill="none" stroke="#484848" stroke-width="1.1" vector-effect="non-scaling-stroke"/>
<rect x="185.73" y="714.2" width="1.3" height="1.3" fill="#484848"/>
<path transform="translate(190.47,705.1) scale(1,0.9000)" d="M3.3,5 Q6.2,5 6.2,2.5 Q6.2,0 3.3,0 Q0.4,0 0.4,2.5 Q0.4,5 3.3,5 Q6.6,5 6.6,8 Q6.6,11 3.3,11 Q0,11 0,8 Q0,5 3.3,5 Z" fill="none" stroke="#484848" stroke-width="1.1" vector-effect="non-scaling-stroke"/>
<path transform="translate(201.8,705.1) scale(1,0.9000)" d="M3,0 Q6,0.4 6,4 V7 Q6,10.6 3,11 Q0,10.6 0,7 V4 Q0,0.4 3,0 Z" fill="none" stroke="#484848" stroke-width="1.1" vector-effect="non-scaling-stroke"/>
<line x1="282.18" y1="608.39" x2="303.3" y2="608.39" stroke="#2a2a2a" stroke-width="1" stroke-dasharray="5 2.1"/>
<line x1="282.18" y1="698.51" x2="303.3" y2="698.51" stroke="#2a2a2a" stroke-width="1" stroke-dasharray="5 2.1"/>
<line x1="302.5" y1="608.39" x2="302.5" y2="740.3" stroke="#2a2a2a" stroke-width="1" stroke-dasharray="5 2.1"/>
<polygon points="302.5,608.39 302,611.39 301.45,614.39 301,617.89 300.7,618.89 300.7,620.09 304.3,620.09 304.3,618.89 304,617.89 303.55,614.39 303,611.39" fill="#111"/>
<polygon points="302.5,698.51 302,695.51 301.45,692.51 301,689.01 300.7,688.01 300.7,686.81 304.3,686.81 304.3,688.01 304,689.01 303.55,692.51 303,695.51" fill="#111"/>
<line x1="277.5" y1="740.3" x2="302.5" y2="740.3" stroke="#2a2a2a" stroke-width="1" stroke-dasharray="5 2.1"/>
<path transform="translate(268.5,728.3) scale(1,1.0182)" d="M0,2.6 Q0.6,0 3.4,0 Q6.8,0 6.8,3 Q6.8,5 4.6,6.6 L0,11 H6.8" fill="none" stroke="#484848" stroke-width="1.1" vector-effect="non-scaling-stroke"/>
<rect x="278.7" y="738.7" width="1.3" height="1.3" fill="#484848"/>
<path transform="translate(283.4,728.3) scale(1,1.0182)" d="M5.2,11 V0 L0,7.6 H7" fill="none" stroke="#484848" stroke-width="1.1" vector-effect="non-scaling-stroke"/>
<path transform="translate(295.1,728.3) scale(1,1.0182)" d="M3,0 Q6,0.4 6,4 V7 Q6,10.6 3,11 Q0,10.6 0,7 V4 Q0,0.4 3,0 Z" fill="none" stroke="#484848" stroke-width="1.1" vector-effect="non-scaling-stroke"/>
<line x1="372.08" y1="698.51" x2="372.08" y2="741.6" stroke="#2a2a2a" stroke-width="1" stroke-dasharray="5 2.1"/>
<line x1="417.03" y1="698.51" x2="417.03" y2="741.6" stroke="#2a2a2a" stroke-width="1" stroke-dasharray="5 2.1"/>
<line x1="372.08" y1="741.6" x2="417.03" y2="741.6" stroke="#2a2a2a" stroke-width="1" stroke-dasharray="5 2.1"/>
<polygon points="372.08,741.6 375.08,741.1 378.08,740.55 381.58,740.1 382.58,739.8 383.78,739.8 383.78,743.4 382.58,743.4 381.58,743.1 378.08,742.65 375.08,742.1" fill="#111"/>
<polygon points="417.03,741.6 414.03,741.1 411.03,740.55 407.53,740.1 406.53,739.8 405.33,739.8 405.33,743.4 406.53,743.4 407.53,743.1 411.03,742.65 414.03,742.1" fill="#111"/>
<path transform="translate(380.4,728.6) scale(1,0.9182)" d="M2.3,0 L0,3.2 M2.3,0 V11 M0.2,11 H3.9" fill="none" stroke="#484848" stroke-width="1.1" vector-effect="non-scaling-stroke"/>
<rect x="386.5" y="737.9" width="1.3" height="1.3" fill="#484848"/>
<path transform="translate(390.9,728.6) scale(1,0.9182)" d="M0,2.6 Q0.6,0 3.4,0 Q6.8,0 6.8,3 Q6.8,5 4.6,6.6 L0,11 H6.8" fill="none" stroke="#484848" stroke-width="1.1" vector-effect="non-scaling-stroke"/>
<path transform="translate(402.1,728.6) scale(1,0.9182)" d="M3,0 Q6,0.4 6,4 V7 Q6,10.6 3,11 Q0,10.6 0,7 V4 Q0,0.4 3,0 Z" fill="none" stroke="#484848" stroke-width="1.1" vector-effect="non-scaling-stroke"/>
<line x1="506.93" y1="698.51" x2="506.93" y2="739.8" stroke="#555" stroke-width="1"/>
<line x1="583.73" y1="664.7" x2="583.73" y2="739.8" stroke="#555" stroke-width="1"/>
<line x1="506.93" y1="738.5" x2="583.73" y2="738.5" stroke="#333" stroke-width="1"/>
<polygon points="506.93,738.5 509.93,738 512.93,737.45 516.43,737 517.43,736.7 518.63,736.7 518.63,740.3 517.43,740.3 516.43,740 512.93,739.55 509.93,739" fill="#111"/>
<polygon points="583.73,738.5 580.73,738 577.73,737.45 574.23,737 573.23,736.7 572.03,736.7 572.03,740.3 573.23,740.3 574.23,740 577.73,739.55 580.73,739" fill="#111"/>
<path transform="translate(529.6,725.7) scale(1,1.0091)" d="M0,2.6 Q0.6,0 3.4,0 Q6.8,0 6.8,3 Q6.8,5 4.6,6.6 L0,11 H6.8" fill="none" stroke="#484848" stroke-width="1.1" vector-effect="non-scaling-stroke"/>
<rect x="539.53" y="736" width="1.3" height="1.3" fill="#484848"/>
<path transform="translate(543.97,725.7) scale(1,1.0091)" d="M3,0 Q6,0.4 6,4 V7 Q6,10.6 3,11 Q0,10.6 0,7 V4 Q0,0.4 3,0 Z" fill="none" stroke="#484848" stroke-width="1.1" vector-effect="non-scaling-stroke"/>
<path transform="translate(554.4,725.7) scale(1,1.0091)" d="M6.4,0 H0.8 L0.4,4.6 Q1.6,3.8 3.4,3.8 Q6.8,3.8 6.8,7.4 Q6.8,11 3.4,11 Q1,11 0,9.6" fill="none" stroke="#484848" stroke-width="1.1" vector-effect="non-scaling-stroke"/>
<line x1="583.73" y1="717.3" x2="659.8" y2="717.3" stroke="#2a2a2a" stroke-width="1" stroke-dasharray="5 2.1"/>
<polygon points="583.73,717.3 586.73,716.8 589.73,716.25 593.23,715.8 594.23,715.5 595.43,715.5 595.43,719.1 594.23,719.1 593.23,718.8 589.73,718.35 586.73,717.8" fill="#111"/>
<polygon points="613.7,717.3 610.7,716.8 607.7,716.25 604.2,715.8 603.2,715.5 602,715.5 602,719.1 603.2,719.1 604.2,718.8 607.7,718.35 610.7,717.8" fill="#111"/>
<path transform="translate(626.2,704.5) scale(1,0.9636)" d="M3,0 Q6,0.4 6,4 V7 Q6,10.6 3,11 Q0,10.6 0,7 V4 Q0,0.4 3,0 Z" fill="none" stroke="#484848" stroke-width="1.1" vector-effect="non-scaling-stroke"/>
<rect x="635.23" y="714.3" width="1.3" height="1.3" fill="#484848"/>
<path transform="translate(639.57,704.5) scale(1,0.9636)" d="M3.3,5 Q6.2,5 6.2,2.5 Q6.2,0 3.3,0 Q0.4,0 0.4,2.5 Q0.4,5 3.3,5 Q6.6,5 6.6,8 Q6.6,11 3.3,11 Q0,11 0,8 Q0,5 3.3,5 Z" fill="none" stroke="#484848" stroke-width="1.1" vector-effect="non-scaling-stroke"/>
<path transform="translate(650.5,704.5) scale(1,0.9636)" d="M3,0 Q6,0.4 6,4 V7 Q6,10.6 3,11 Q0,10.6 0,7 V4 Q0,0.4 3,0 Z" fill="none" stroke="#484848" stroke-width="1.1" vector-effect="non-scaling-stroke"/>
<line x1="538.7" y1="649.7" x2="661" y2="649.7" stroke="#2a2a2a" stroke-width="1" stroke-dasharray="5 2.1"/>
<line x1="521.93" y1="653.45" x2="661" y2="653.45" stroke="#2a2a2a" stroke-width="1" stroke-dasharray="5 2.1"/>
<line x1="661" y1="627" x2="661" y2="649.7" stroke="#2a2a2a" stroke-width="1" stroke-dasharray="5 2.1"/>
<polygon points="661,649.7 660.5,646.7 659.95,643.7 659.5,640.2 659.2,639.2 659.2,638 662.8,638 662.8,639.2 662.5,640.2 662.05,643.7 661.5,646.7" fill="#111"/>
<line x1="661" y1="653.45" x2="661" y2="674.8" stroke="#2a2a2a" stroke-width="1" stroke-dasharray="5 2.1"/>
<polygon points="661,653.45 660.5,656.45 659.95,659.45 659.5,662.95 659.2,663.95 659.2,665.15 662.8,665.15 662.8,663.95 662.5,662.95 662.05,659.45 661.5,656.45" fill="#111"/>
<line x1="661" y1="627" x2="689.6" y2="627" stroke="#2a2a2a" stroke-width="1" stroke-dasharray="5 2.1"/>
<path transform="translate(662.8,614.5) scale(1,0.9545)" d="M3,0 Q6,0.4 6,4 V7 Q6,10.6 3,11 Q0,10.6 0,7 V4 Q0,0.4 3,0 Z" fill="none" stroke="#484848" stroke-width="1.1" vector-effect="non-scaling-stroke"/>
<rect x="672" y="624.2" width="1.3" height="1.3" fill="#484848"/>
<path transform="translate(676.5,614.5) scale(1,0.9545)" d="M2.3,0 L0,3.2 M2.3,0 V11 M0.2,11 H3.9" fill="none" stroke="#484848" stroke-width="1.1" vector-effect="non-scaling-stroke"/>
<path transform="translate(684,614.5) scale(1,0.9545)" d="M3,0 Q6,0.4 6,4 V7 Q6,10.6 3,11 Q0,10.6 0,7 V4 Q0,0.4 3,0 Z" fill="none" stroke="#484848" stroke-width="1.1" vector-effect="non-scaling-stroke"/>
</svg>
<div class="big" id="cop" style="left:325.8px;top:185.5px;font-size:25px;line-height:28px;">Copper</div>
<div class="big" id="clr" style="left:310.4px;top:218px;font-size:25px;line-height:28px;">Clearance</div>
<div class="big" id="cap" style="left:279.3px;top:757px;font-size:12px;line-height:14px;">Figure 8.2.&nbsp; Recommended Land Pattern</div>
</body></html>
